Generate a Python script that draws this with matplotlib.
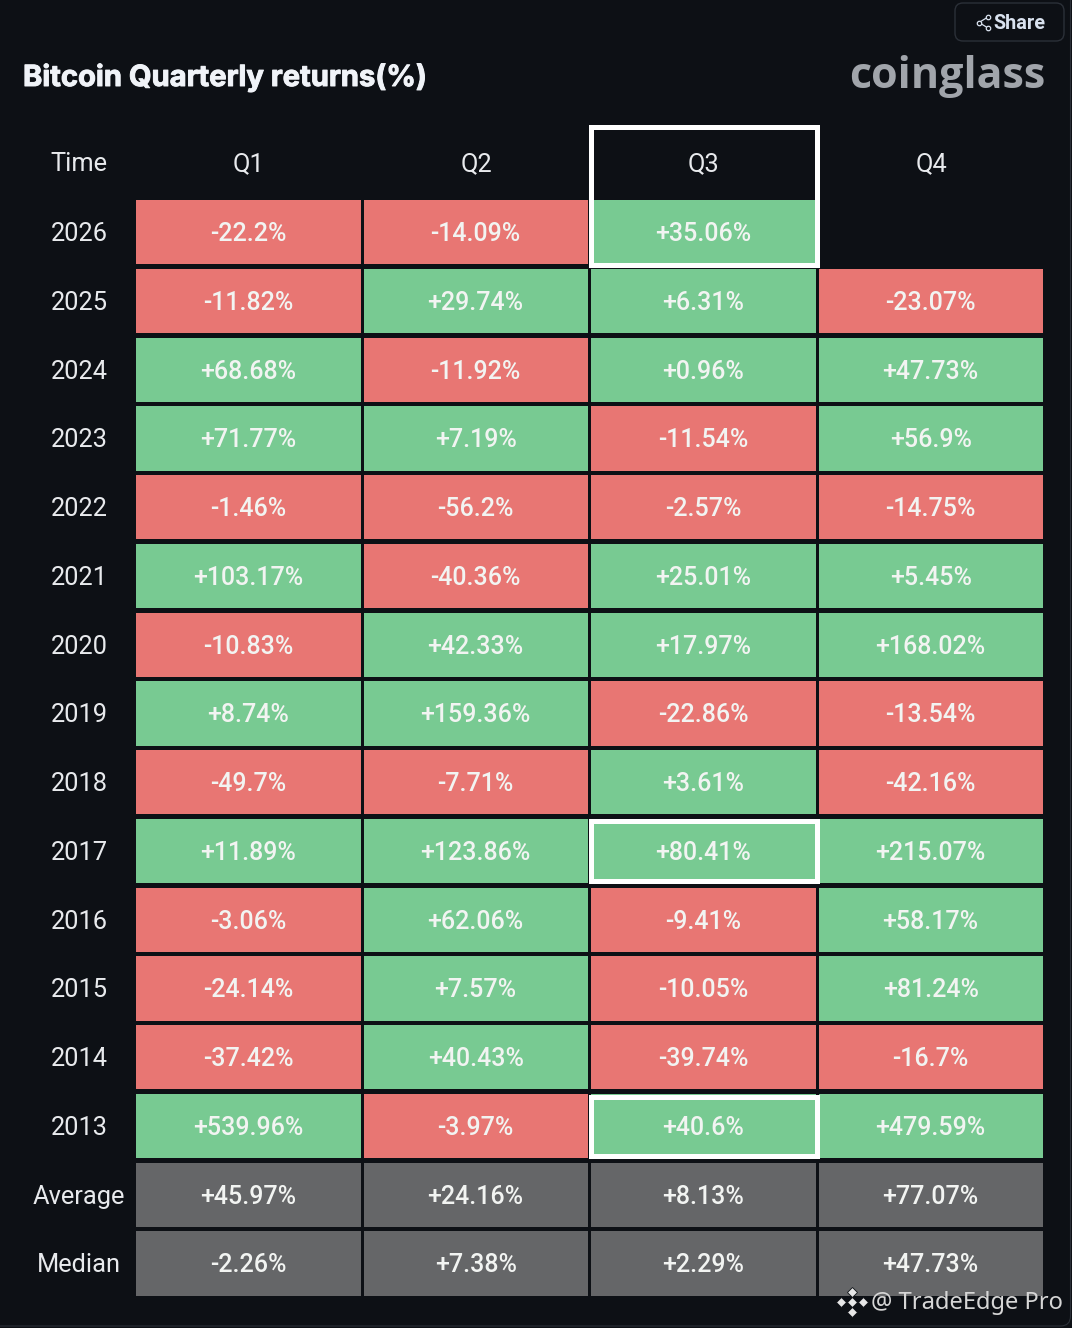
import matplotlib
matplotlib.use("Agg")
import matplotlib.pyplot as plt
import matplotlib.patheffects as pe
from matplotlib.patches import Rectangle, FancyBboxPatch

years = ["2026", "2025", "2024", "2023", "2022", "2021", "2020", "2019",
         "2018", "2017", "2016", "2015", "2014", "2013"]
quarters = ["Q1", "Q2", "Q3", "Q4"]
q1 = [-22.2, -11.82, 68.68, 71.77, -1.46, 103.17, -10.83, 8.74, -49.7, 11.89, -3.06, -24.14, -37.42, 539.96]
q2 = [-14.09, 29.74, -11.92, 7.19, -56.2, -40.36, 42.33, 159.36, -7.71, 123.86, 62.06, 7.57, 40.43, -3.97]
q3 = [35.06, 6.31, 0.96, -11.54, -2.57, 25.01, 17.97, -22.86, 3.61, 80.41, -9.41, -10.05, -39.74, 40.6]
q4 = [None, -23.07, 47.73, 56.9, -14.75, 5.45, 168.02, -13.54, -42.16, 215.07, 58.17, 81.24, -16.7, 479.59]
summary_names = ["Average", "Median"]
average = [45.97, 24.16, 8.13, 77.07]
median = [-2.26, 7.38, 2.29, 47.73]

BG = "#0d1015"
RED = "#e87673"
GREEN = "#78ca92"
GREY = "#656668"
W, H = 1072, 1328

plt.rcParams['font.family'] = ['Roboto', 'DejaVu Sans']
fig = plt.figure(figsize=(W / 100, H / 100), dpi=100, facecolor=BG)

# 表格坐标：列和行的序号，轴的位置按像素算
left, right, top, bottom = 136, 1046, 200, 1300
ax = fig.add_axes([left / W, 1 - bottom / H, (right - left) / W, (bottom - top) / H])
ax.set_xlim(0, 4)
ax.set_ylim(16, 0)
ax.axis("off")
ax.patch.set_alpha(0)

GAP_X, GAP_Y = 0.012, 0.065


def fmt(v):
    return f"{v:+g}%"


def cell(col, row, value, color):
    ax.add_patch(Rectangle((col, row), 1 - GAP_X, 1 - GAP_Y, fc=color, ec="none"))
    ax.text(col + 0.493, row + 0.495, fmt(value), color="#f2f4f2", fontsize=18,
            fontweight="medium", ha="center", va="center")


for c, col_vals in enumerate([q1, q2, q3, q4]):
    for r, v in enumerate(col_vals):
        if v is not None:
            cell(c, r, v, GREEN if v >= 0 else RED)
    cell(c, 14, average[c], GREY)
    cell(c, 15, median[c], GREY)
    ax.text(c + 0.495, -0.52, quarters[c], color="#e8eaed", fontsize=18.3,
            ha="center", va="center", clip_on=False)

for r, y in enumerate(years + summary_names):
    ax.text(-0.25, r + 0.495, y, color="#e8eaed", fontsize=18.3,
            ha="center", va="center", clip_on=False)
ax.text(-0.25, -0.52, "Time", color="#e8eaed", fontsize=18.3,
        ha="center", va="center", clip_on=False)

# 白色高亮框
for r0, r1 in [(-1.055, 0.94), (9.04, 9.9), (13.04, 13.9)]:
    ax.add_patch(Rectangle((1.998, r0), 0.996, r1 - r0, fc="none",
                           ec="white", lw=3.6, clip_on=False, zorder=5))

# 页面上的文字（像素坐标）
page = fig.add_axes([0, 0, 1, 1])
page.set_xlim(0, W)
page.set_ylim(H, 0)
page.axis("off")
page.patch.set_alpha(0)

title = page.text(23, 78, "Bitcoin Quarterly returns(%)", color="#f0f3f8", fontsize=21,
                  fontweight="bold", family=["Inter", "DejaVu Sans"], ha="left", va="center")
title.set_path_effects([pe.withStroke(linewidth=0.7, foreground="#f0f3f8")])
page.text(1045, 77, "coinglass", color="#a1a5ab", fontsize=31,
          fontweight="bold", family=["Open Sans", "DejaVu Sans"], ha="right", va="center")

# Share 按钮
page.add_patch(FancyBboxPatch((955, 3), 109, 38, boxstyle="round,pad=0,rounding_size=8",
                              fc=BG, ec="#2b3038", lw=1))
page.text(1045, 23.5, "Share", color="#d9e2ef", fontsize=14.3, fontweight="bold",
          ha="right", va="center")
page.plot([988, 979, 988], [17, 22.5, 28], color="#d9e2ef", lw=0.9,
          marker="o", ms=3.2, mfc=BG, mec="#d9e2ef", mew=0.9)

# 水印
page.text(1063, 1303, "@ TradeEdge Pro", color="#d6d6d6", fontsize=17.1,
          ha="right", va="center", family=["Noto Sans", "DejaVu Sans"])
page.plot([852, 852, 852, 841, 863], [1302, 1292, 1312, 1302, 1302], ls="none", marker="D", ms=5.5,
          mfc="#e6e6e6", mec=BG, mew=0.6)

# 右下角的细边框
page.add_patch(FancyBboxPatch((-20, -20), 1090.5, 1346, boxstyle="round,pad=0,rounding_size=10",
                              fc="none", ec="#2b3038", lw=0.8))

fig.savefig("out.png", dpi=100, facecolor=BG)
